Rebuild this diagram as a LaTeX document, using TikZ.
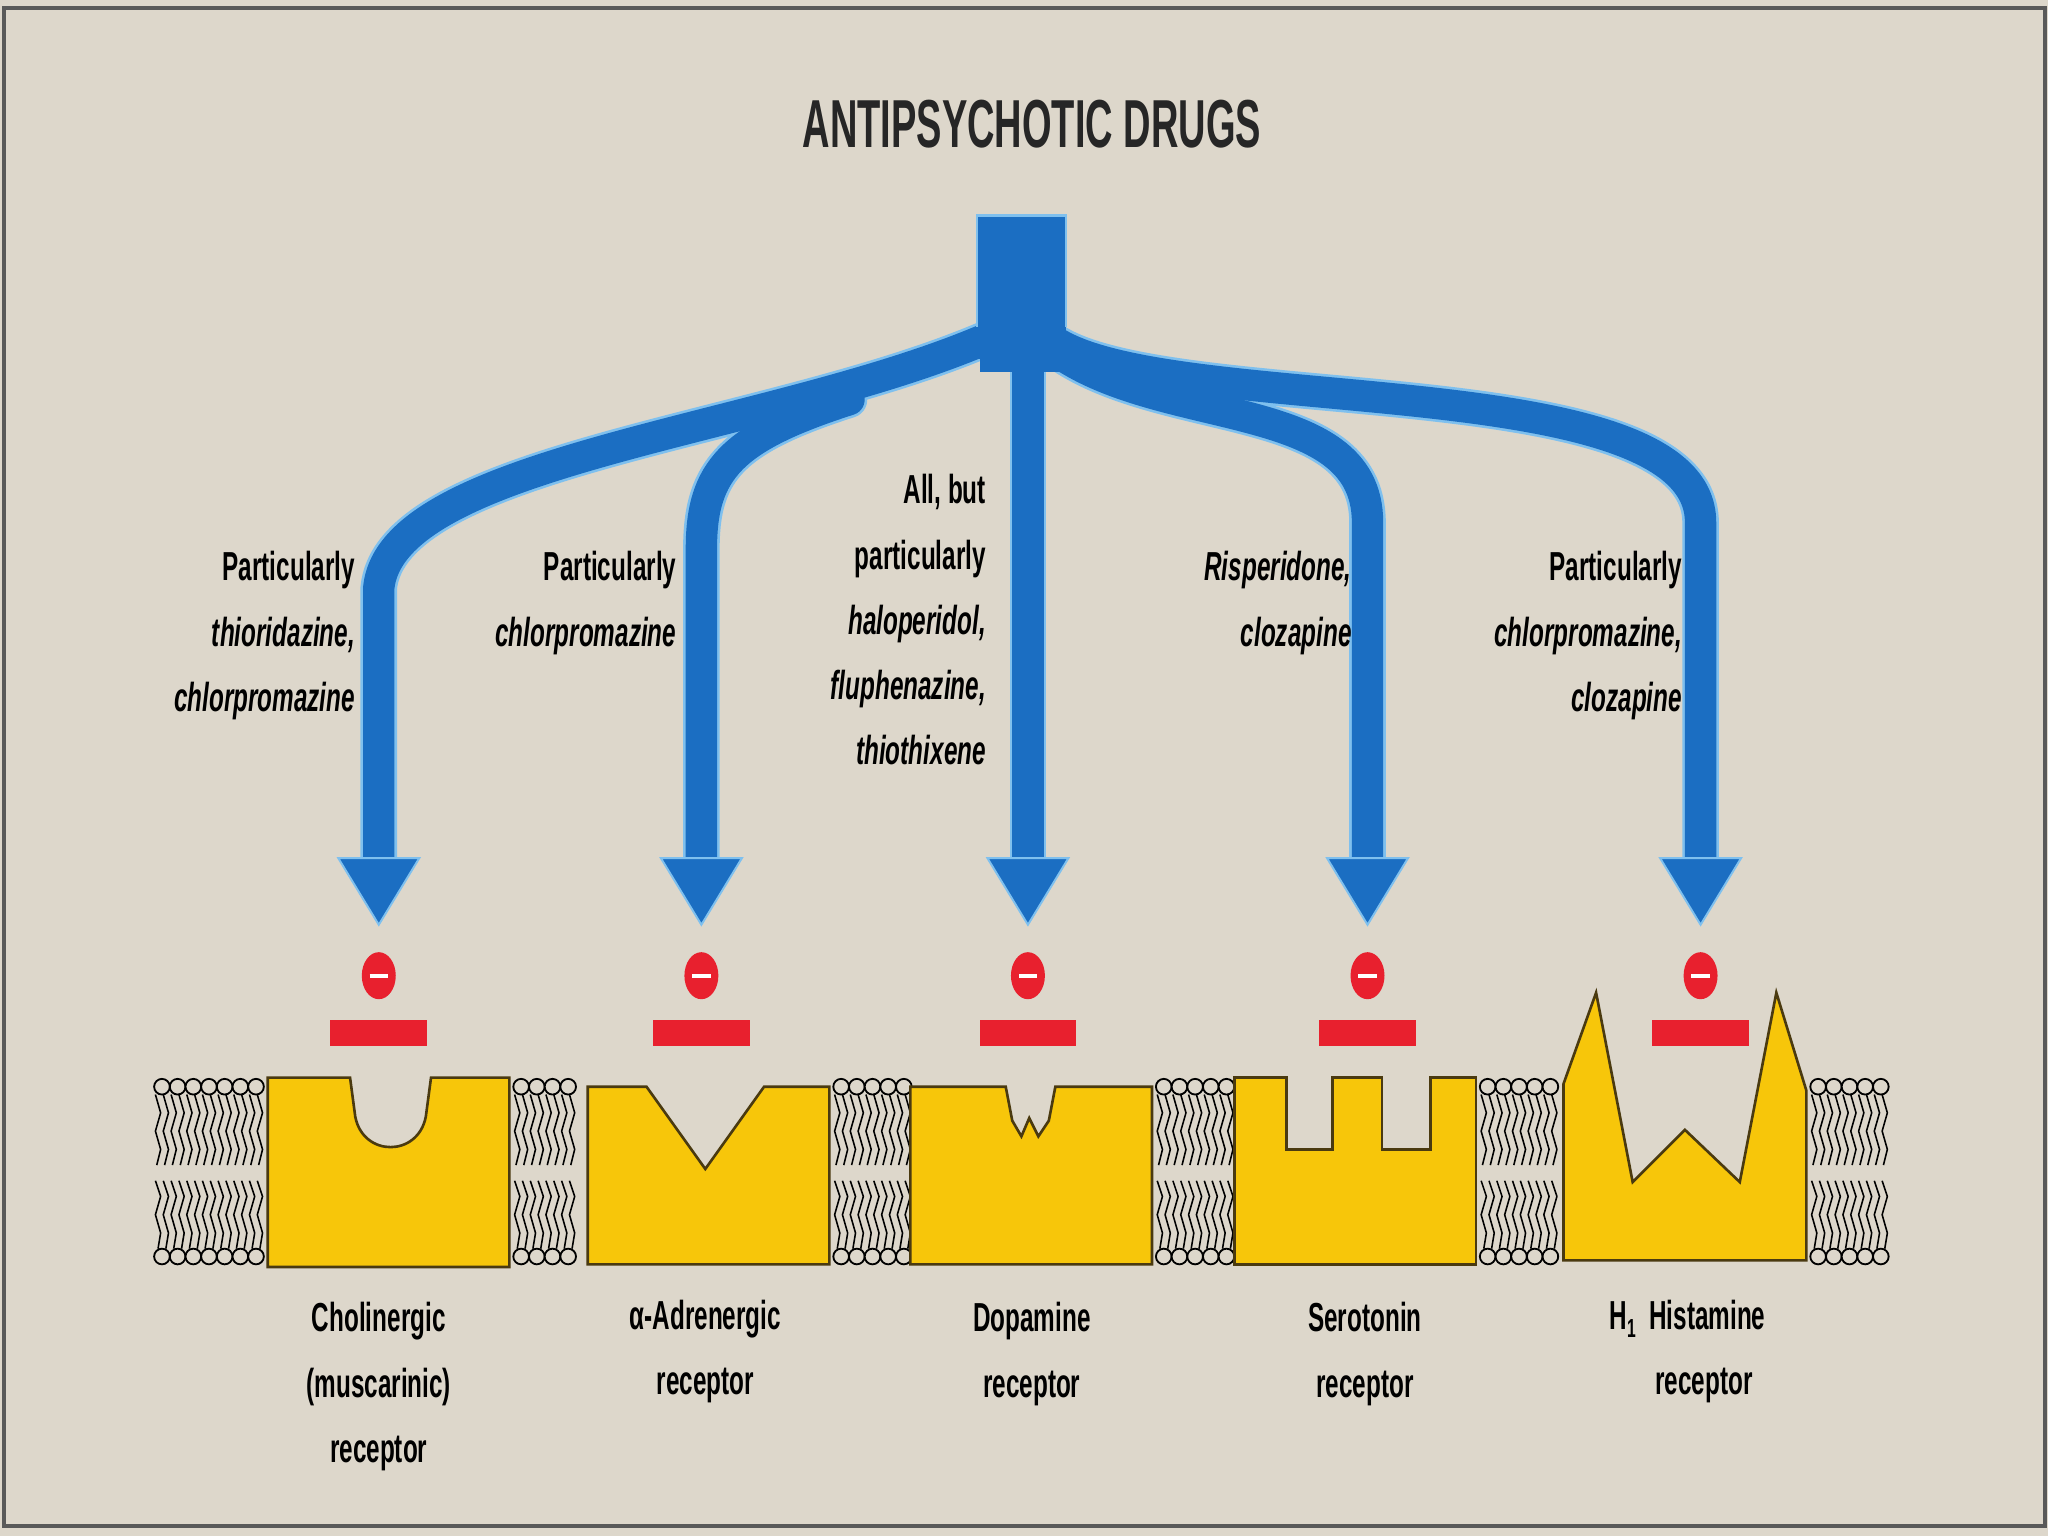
\documentclass[tikz,border=0pt]{standalone}
\usepackage{fontspec}
\setmainfont{Liberation Sans}[FakeStretch=0.6,BoldFont={Liberation Sans Bold},BoldFeatures={FakeStretch=0.6}]
\newfontfamily\titlefont{Liberation Sans}[FakeStretch=0.56]
\begin{document}
\begin{tikzpicture}[x=1pt,y=-1pt,
  band/.style={line width=24pt,draw=drugblue,line cap=round},
  halo/.style={line width=28pt,draw=lightblue,line cap=round},
  lbl/.style={font=\fontsize{31}{50}\selectfont\bfseries,align=right,anchor=north east,inner sep=0pt},
  rlbl/.style={font=\fontsize{31}{50}\selectfont\bfseries,align=center,anchor=north,inner sep=0pt},
  recep/.style={fill=recyellow,draw=recline,line width=2pt,line join=miter},
  head/.style={draw=black,fill=bg,line width=1.4pt},
  tail/.style={draw=black,line width=1.2pt}]
\definecolor{bg}{HTML}{DDD7CB}
\definecolor{drugblue}{HTML}{1B6EC2}
\definecolor{lightblue}{HTML}{7FC0EE}
\definecolor{recyellow}{HTML}{F7C60A}
\definecolor{recline}{HTML}{4A3A10}
\definecolor{minred}{HTML}{E8202E}
\useasboundingbox (0,0) rectangle (1568,1176);
\fill[bg] (0,0) rectangle (1568,1176);
\draw[gray!70!black,line width=3pt] (3,6) rectangle (1566,1168);
\node[font=\titlefont\fontsize{52}{60}\selectfont\bfseries,text=black!85] (title) at (790,95) {ANTIPSYCHOTIC DRUGS};
% blue tree
\foreach \s in {halo,band}{
 \draw[\s] (765,255) .. controls (600,330) and (300,350) .. (290,450) -- (290,662);
 \draw[\s] (650,306) .. controls (560,335) and (537,360) .. (537,420) -- (537,662);
 \draw[\s] (787,260) -- (787,662);
 \draw[\s] (800,262) .. controls (880,330) and (1047,300) .. (1047,400) -- (1047,662);
 \draw[\s] (808,262) .. controls (900,320) and (1302,280) .. (1302,400) -- (1302,662);
}
\fill[drugblue] (748,165) rectangle (816,275);
\draw[lightblue,line width=2pt] (748,250) -- (748,165) -- (816,165) -- (816,250);
\fill[drugblue] (750,240) rectangle (814,285);
\foreach \x/\n in {290/a,537/b,787/c,1047/d,1302/e}{
 \coordinate (tip\n) at (\x,708);
 \fill[drugblue,draw=lightblue,line width=1.5pt] (\x-31,657) -- (\x+31,657) -- (tip\n) -- cycle;
 \fill[minred] (\x,747) ellipse (13 and 18);
 \draw[white,line width=3pt] (\x-7,747) -- (\x+7,747);
 \fill[minred] (\x-37,781) rectangle (\x+37,801);
}
% lipids
\foreach \a/\b in {115/205,390/450,635/697,882/945,1130/1197,1383/1447}{
 \pgfmathsetmacro{\bb}{\b-8}
 \pgfmathsetmacro{\aa}{\a+6}
 \pgfmathsetmacro{\ab}{\a+18}
 \foreach \c in {\aa,\ab,...,\bb}{
  \draw[tail] (\c-2,838) -- (\c+2,852) -- (\c-2,866) -- (\c+2,880) -- (\c-1,892);
  \draw[tail] (\c+4,838) -- (\c+8,852) -- (\c+4,866) -- (\c+8,880) -- (\c+5,892);
  \draw[tail] (\c-2,904) -- (\c+2,916) -- (\c-2,930) -- (\c+2,944) -- (\c,956);
  \draw[tail] (\c+4,904) -- (\c+8,916) -- (\c+4,930) -- (\c+8,944) -- (\c+6,956);
  \draw[head] (\c+3,832) circle (6);
  \draw[head] (\c+3,962) circle (6);
 }
}
% receptors
\draw[recep] (205,970) -- (205,825) -- (268,825) -- (272,855) .. controls (278,886) and (320,886) .. (326,855) -- (330,825) -- (390,825) -- (390,970) -- cycle;
\draw[recep] (450,968) -- (450,832) -- (495,832) -- (540,895) -- (585,832) -- (635,832) -- (635,968) -- cycle;
\draw[recep] (697,968) -- (697,832) -- (770,832) -- (775,858) -- (782,870) -- (788,856) -- (795,870) -- (803,858) -- (808,832) -- (882,832) -- (882,968) -- cycle;
\draw[recep] (945,968) -- (945,825) -- (985,825) -- (985,880) -- (1020,880) -- (1020,825) -- (1058,825) -- (1058,880) -- (1095,880) -- (1095,825) -- (1130,825) -- (1130,968) -- cycle;
\draw[recep] (1197,965) -- (1197,830) -- (1222,760) -- (1250,905) -- (1290,865) -- (1332,905) -- (1360,760) -- (1383,835) -- (1383,965) -- cycle;
% drug labels
\node[lbl] (l1) at (272,422) {Particularly\\\itshape thioridazine,\\\itshape chlorpromazine};
\node[lbl] (l2) at (518,422) {Particularly\\\itshape chlorpromazine};
\node[lbl] (l3) at (755,363) {All, but\\particularly\\\itshape haloperidol,\\\itshape fluphenazine,\\\itshape thiothixene};
\node[lbl] (l4) at (1035,422) {\itshape Risperidone,\\\itshape clozapine};
\node[lbl] (l5) at (1288,422) {Particularly\\\itshape chlorpromazine,\\\itshape clozapine};
% receptor labels
\node[rlbl] (r1) at (290,997) {Cholinergic\\(muscarinic)\\receptor};
\node[rlbl] (r2) at (540,995) {α-Adrenergic\\receptor};
\node[rlbl] (r3) at (790,997) {Dopamine\\receptor};
\node[rlbl] (r4) at (1045,997) {Serotonin\\receptor};
\node[rlbl] (r5) at (1292,995) {H\raisebox{-6pt}{\fontsize{20}{20}\selectfont 1}~ Histamine\\\hspace*{25pt}receptor};
\end{tikzpicture}
\end{document}
